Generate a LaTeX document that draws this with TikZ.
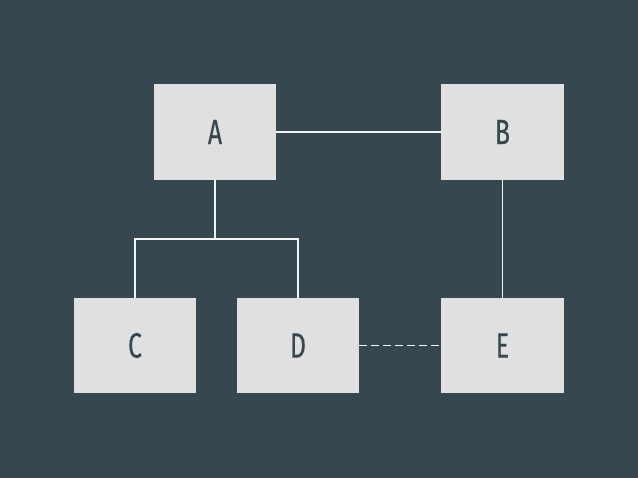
\documentclass[tikz,border=0pt]{standalone}
\usepackage{fontspec}
\setmainfont{Fira Sans}[FakeStretch=0.7, FakeBold=0.4]
\definecolor{slate}{HTML}{37474F}
\definecolor{boxgrey}{HTML}{E0E0E0}
\definecolor{linewhite}{HTML}{F2F4F5}
\tikzset{
  card/.style={fill=boxgrey, minimum width=3.05cm, minimum height=2.375cm,
    inner sep=0pt, text=slate, font=\fontsize{25}{27}\selectfont},
  wire/.style={draw=linewhite, line width=1pt},
}
\begin{document}
\begin{tikzpicture}[x=0.025cm, y=-0.025cm]
    \fill[slate](0,0)rectangle(638,478);
    \useasboundingbox(0,0)rectangle(638,478);
    \node[card](A) at (215,132){A};
    \node[card](B) at (502.5,132){B};
    \node[card](C) at (135,345.5){C};
    \node[card](D) at (298,345.5){D};
    \node[card](E) at (502.5,345.5){E};
    \coordinate(fork) at (215,239);
    \draw[wire](A)--(B);
    \draw[wire](B)--(E);
    \draw[wire](A.south)--(fork);
    \draw[wire](C.north)|-(fork)-|(D.north);
    \draw[wire, dash pattern=on 5.5pt off 3pt](D)--(E);
\end{tikzpicture}
\end{document}
